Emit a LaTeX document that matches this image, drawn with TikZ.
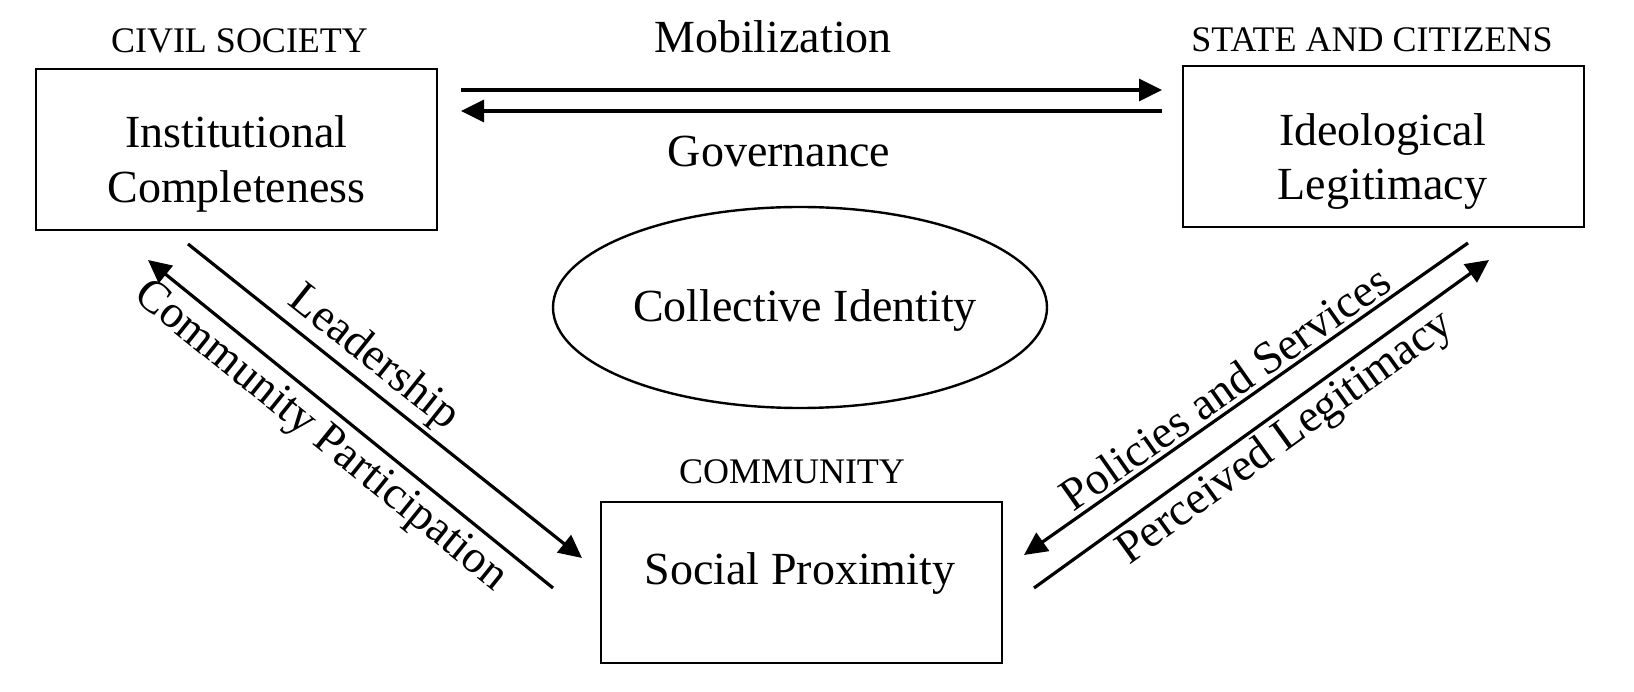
\documentclass[tikz,border=0pt]{standalone}
\usepackage{fontspec}
\setmainfont{Liberation Serif}
\usetikzlibrary{arrows.meta,shapes.geometric}
\begin{document}
\begin{tikzpicture}[x=1pt,y=-1pt,
  box/.style={draw, line width=2pt, minimum width=401pt, minimum height=161pt, inner sep=0pt},
  big/.style={font=\fontsize{46}{55}\selectfont, inner sep=0pt},
  small/.style={font=\fontsize{36}{43}\selectfont, inner sep=0pt},
  arr/.style={line width=3.2pt, -{Triangle[length=23pt,width=22pt]}},
  lab/.style={font=\fontsize{46}{55}\selectfont, inner sep=5pt, sloped}]
\fill[white] (0,0) rectangle (1634,692);
\useasboundingbox (0,0) rectangle (1634,692);
% boxes
\node[box] (civ) at (236.5,149.5) {};
\node[box] (sta) at (1383.5,147) {};
\node[box] (com) at (801,582.5) {};
% headings
\node[small,anchor=base] (civt) at (239.5,53) {CIVIL SOCIETY};
\node[small,anchor=base] (stat) at (1372,52) {STATE AND CITIZENS};
\node[small,anchor=base] (comt) at (792,484) {COMMUNITY};
% box texts
\node[big,anchor=base] (civa) at (236.5,148) {Institutional};
\node[big,anchor=base] (civb) at (236.5,203) {Completeness};
\node[big,anchor=base] (staa) at (1382.5,146) {Ideological};
\node[big,anchor=base] (stab) at (1382.5,200) {Legitimacy};
\node[big,anchor=base] (coma) at (800,584) {Social Proximity};
% ellipse
\node[ellipse, draw, line width=2.4pt, minimum width=494pt, minimum height=201pt, inner sep=0pt] (ci) at (800,307.5) {};
\node[big,anchor=base] (cit) at (805,322) {Collective Identity};
% arrow end points
\coordinate (m1) at (461,90);   \coordinate (m2) at (1162,90);
\coordinate (g1) at (1162,111); \coordinate (g2) at (461,111);
\coordinate (l1) at (188,244);  \coordinate (l2) at (582,558);
\coordinate (c1) at (553,588);  \coordinate (c2) at (148,260);
\coordinate (p1) at (1468,243); \coordinate (p2) at (1024,555);
\coordinate (q1) at (1034,588); \coordinate (q2) at (1489,260);
% arrows
\draw[arr] (m1) -- (m2);
\draw[arr] (g1) -- (g2);
\draw[arr] (l1) -- (l2);
\draw[arr] (c1) -- (c2);
\draw[arr] (p1) -- (p2);
\draw[arr] (q1) -- (q2);
% labels
\node[big,anchor=base] (mob) at (773,53) {Mobilization};
\node[big,anchor=base] (gov) at (779,167) {Governance};
\path (l1) -- (l2) node[lab, pos=0.43, above] (lead) {Leadership};
\path (c2) -- (c1) node[lab, pos=0.47, below, inner sep=9pt] (cp) {Community Participation};
\path (p2) -- (p1) node[lab, pos=0.48, above] (ps) {Policies and Services};
\path (q1) -- (q2) node[lab, pos=0.52, below] (pl) {Perceived Legitimacy};
\end{tikzpicture}
\end{document}
